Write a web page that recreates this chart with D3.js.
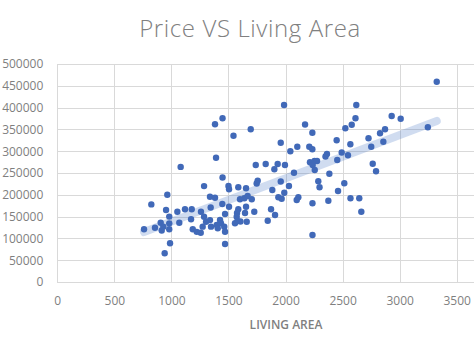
<!DOCTYPE html>
<html>
<head>
<meta charset="utf-8">
<script src="https://cdn.jsdelivr.net/npm/d3@7/dist/d3.min.js"></script>
<style>
  html, body { margin: 0; padding: 0; background: #ffffff; }
  svg { display: block; font-family: "Open Sans", "Noto Sans", sans-serif; }
</style>
</head>
<body>
<svg id="chart" width="474" height="355"></svg>
<script>
// ---- data ----
const title = "Price VS Living Area";
const xAxisTitle = "LIVING AREA";
const xTicks = [0, 500, 1000, 1500, 2000, 2500, 3000, 3500];
const yTicks = [0, 50000, 100000, 150000, 200000, 250000, 300000, 350000, 400000, 450000, 500000];

const livingArea = [
  760, 824, 856, 906, 929, 915, 941, 964, 953, 981, 981, 981, 988, 1052, 1069, 1081,
  1119, 1178, 1172, 1187, 1222, 1257, 1274, 1259, 1286, 1286, 1303, 1338, 1338, 1347, 1344,
  1382, 1448, 1391, 1544, 1695, 1448, 1500, 1505, 1586, 1654, 1382, 1446, 1505, 1586, 1654,
  1575, 1645, 1601, 1639, 1668, 1704, 1470, 1572, 1557, 1579, 1605, 1660, 1426, 1434, 1397,
  1463, 1470, 1406, 1470, 1726, 1739, 1826, 1931, 1995, 1902, 2074, 1756, 1747, 1958, 2030,
  1884, 1989, 1937, 1966, 2112, 2098, 1873, 1908, 1844, 1987, 1958, 2042, 2103,
  2171, 2235, 2208, 2235, 2448, 2363, 2350, 2492, 2568, 2524, 2580, 2613, 2620, 2547, 2453,
  2214, 2254, 2276, 2238, 2256, 2384, 2287, 2298, 2515, 2460, 2375, 2569, 2646, 2664, 2236,
  2236, 2727, 2751, 2828, 2872, 2857, 2764, 2793, 2930, 3009, 3247, 3325
];
const price = [
  121000, 178000, 124500, 136000, 127000, 118000, 66000, 200000, 165000, 150000, 134500, 121000, 89000, 161000, 136000, 264000,
  167000, 167000, 144000, 121000, 115000, 113000, 127000, 161000, 220000, 149500, 138000, 195600, 142000, 127000, 171000,
  361700, 375500, 285100, 335600, 350200, 239700, 220200, 212600, 217200, 214900, 193400, 178900, 172700, 166700, 172700,
  158300, 158300, 189700, 192000, 197200, 189700, 156000, 149800, 134600, 139900, 138800, 138300, 142200, 134600, 130700,
  126800, 115400, 123200, 87200, 161200, 268400, 270600, 270600, 268400, 258500, 250700, 232300, 225900, 230500, 220200,
  211000, 204800, 194300, 191100, 194300, 188100, 166700, 153700, 140600, 406000, 319500, 299800, 310300,
  361200, 342200, 310300, 304400, 325000, 293600, 287800, 297000, 316100, 352500, 360800, 375500, 406000, 290600, 279800,
  274500, 277500, 277500, 268400, 256900, 248400, 231200, 217200, 226400, 208700, 186500, 192000, 192000, 161200, 180500,
  107800, 329600, 310300, 341100, 350200, 321600, 271300, 253900, 380700, 374500, 354800, 459400
];

// ---- drawing ----
const svg = d3.select("#chart");
const W = 474, H = 355;
const x0 = 57.3, unit = 57.06;           // pixel of 0 and pixels per 500
const x = d3.scaleLinear().domain([0, 4000]).range([x0, x0 + 8 * unit]);
const y = d3.scaleLinear().domain([0, 500000]).range([282, 64]);

const gridColor = "#d9d9d9";
const textColor = "#7f7f7f";

// horizontal gridlines
const gy = svg.append("g")
  .attr("transform", `translate(${x0},0)`)
  .call(d3.axisLeft(y).tickValues(yTicks).tickSize(-(W - x0)).tickPadding(14).tickFormat(d3.format("d")));
gy.select(".domain").remove();
gy.selectAll(".tick line").attr("stroke", gridColor).attr("stroke-width", 1).attr("shape-rendering", "crispEdges");
gy.selectAll(".tick text").attr("fill", textColor).attr("font-size", 12).attr("font-family", "'Open Sans', sans-serif");

// vertical gridlines + x labels
const gx = svg.append("g")
  .attr("transform", `translate(0,${y(0)})`)
  .call(d3.axisBottom(x).tickValues(xTicks).tickSize(-(y(0) - y(500000))).tickPadding(14).tickFormat(d3.format("d")));
gx.select(".domain").remove();
gx.selectAll(".tick line").attr("stroke", gridColor).attr("stroke-width", 1).attr("shape-rendering", "crispEdges");
gx.selectAll(".tick text").attr("fill", textColor).attr("font-size", 12).attr("font-family", "'Open Sans', sans-serif");

// linear trendline (least squares over the data)
const n = livingArea.length;
const mx = d3.mean(livingArea), my = d3.mean(price);
let sxy = 0, sxx = 0;
for (let i = 0; i < n; i++) { sxy += (livingArea[i] - mx) * (price[i] - my); sxx += (livingArea[i] - mx) ** 2; }
const slope = sxy / sxx, icpt = my - slope * mx;
const [xmin, xmax] = d3.extent(livingArea);
svg.append("line")
  .attr("x1", x(xmin)).attr("y1", y(icpt + slope * xmin))
  .attr("x2", x(xmax)).attr("y2", y(icpt + slope * xmax))
  .attr("stroke", "#4472c4").attr("stroke-opacity", 0.25)
  .attr("stroke-width", 8).attr("stroke-linecap", "round");

// points
svg.append("g").selectAll("circle")
  .data(livingArea.map((v, i) => [v, price[i]]))
  .join("circle")
  .attr("cx", d => x(d[0])).attr("cy", d => y(d[1]))
  .attr("r", 3.2).attr("fill", "#4169b8");

// titles
svg.append("text").attr("x", 250).attr("y", 37).attr("text-anchor", "middle")
  .attr("font-size", 24).attr("font-weight", 300).attr("letter-spacing", 0.6)
  .attr("fill", "#808080").text(title);
svg.append("text").attr("x", 286).attr("y", 329).attr("text-anchor", "middle")
  .attr("font-size", 12).attr("font-weight", 600).attr("fill", textColor).text(xAxisTitle);
</script>
</body>
</html>
